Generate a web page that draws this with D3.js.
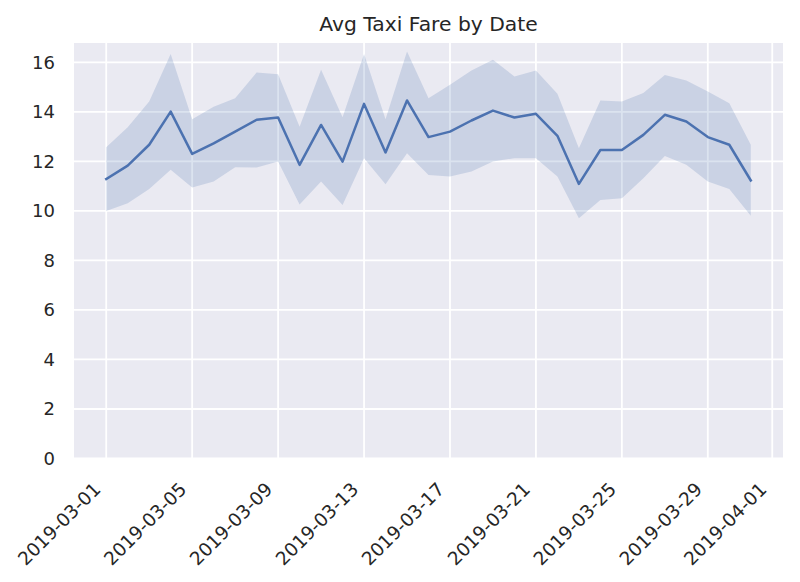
<!DOCTYPE html>
<html><head><meta charset="utf-8">
<script src="https://cdn.jsdelivr.net/npm/d3@7/dist/d3.min.js"></script>
<style>
html,body{margin:0;padding:0;background:#fff;}
text{font-family:"DejaVu Sans",sans-serif;fill:#262626;}
</style></head>
<body><svg id="c" width="800" height="582"></svg>
<script>
const dates = ["2019-03-01","2019-03-02","2019-03-03","2019-03-04","2019-03-05","2019-03-06","2019-03-07","2019-03-08","2019-03-09","2019-03-10","2019-03-11","2019-03-12","2019-03-13","2019-03-14","2019-03-15","2019-03-16","2019-03-17","2019-03-18","2019-03-19","2019-03-20","2019-03-21","2019-03-22","2019-03-23","2019-03-24","2019-03-25","2019-03-26","2019-03-27","2019-03-28","2019-03-29","2019-03-30","2019-03-31"];
const avgFare = [11.29,11.83,12.67,14.01,12.30,12.73,13.20,13.68,13.77,11.86,13.47,11.99,14.32,12.36,14.46,12.98,13.20,13.65,14.05,13.77,13.92,13.03,11.09,12.46,12.46,13.07,13.88,13.61,12.98,12.67,11.23];
const ciUpper = [12.57,13.38,14.42,16.34,13.70,14.21,14.55,15.59,15.52,13.40,15.70,13.78,16.34,13.70,16.44,14.55,15.09,15.67,16.10,15.43,15.67,14.73,12.53,14.46,14.42,14.76,15.49,15.27,14.82,14.35,12.67];
const ciLower = [10.00,10.31,10.88,11.66,10.94,11.19,11.76,11.75,11.99,10.26,11.19,10.24,12.13,11.08,12.33,11.45,11.39,11.59,11.99,12.13,12.13,11.39,9.70,10.44,10.51,11.32,12.22,11.86,11.19,10.88,9.80];
const xTickLabels = ["2019-03-01","2019-03-05","2019-03-09","2019-03-13","2019-03-17","2019-03-21","2019-03-25","2019-03-29","2019-04-01"];
const yTicks = [0,2,4,6,8,10,12,14,16];
const title = "Avg Taxi Fare by Date";

const parse = d3.utcParse("%Y-%m-%d");
const fmt = d3.utcFormat("%Y-%m-%d");
const data = dates.map((d,i)=>({date:parse(d), v:avgFare[i], lo:ciLower[i], hi:ciUpper[i]}));

const L=74, R=783, T=43, B=458.5;
const svg = d3.select("#c");
const x0 = data[0].date.getTime(), x1 = data[data.length-1].date.getTime();
const pad = (x1-x0)*0.05;
const x = d3.scaleUtc().domain([new Date(x0-pad), new Date(x1+pad)]).range([L,R]);
const y = d3.scaleLinear().domain([0,16.78]).range([B,T]);

svg.append("rect").attr("x",L).attr("y",T).attr("width",R-L).attr("height",B-T).attr("fill","#EAEAF2");

const xt = xTickLabels.map(parse);
svg.append("g").selectAll("line").data(yTicks).join("line")
  .attr("x1",L).attr("x2",R).attr("y1",d=>y(d)).attr("y2",d=>y(d))
  .attr("stroke","#fff").attr("stroke-width",1.8);
svg.append("g").selectAll("line").data(xt).join("line")
  .attr("y1",T).attr("y2",B).attr("x1",d=>x(d)).attr("x2",d=>x(d))
  .attr("stroke","#fff").attr("stroke-width",1.8);

svg.append("path").datum(data)
  .attr("d", d3.area().x(d=>x(d.date)).y0(d=>y(d.lo)).y1(d=>y(d.hi)))
  .attr("fill","#4C72B0").attr("fill-opacity",0.2).attr("stroke","none");
svg.append("path").datum(data)
  .attr("d", d3.line().x(d=>x(d.date)).y(d=>y(d.v)))
  .attr("fill","none").attr("stroke","#4C72B0").attr("stroke-width",2.5)
  .attr("stroke-linejoin","round").attr("stroke-linecap","square");

const yAxis = d3.axisLeft(y).tickValues(yTicks).tickSize(0).tickPadding(19);
const gy = svg.append("g").attr("transform",`translate(${L},0)`).call(yAxis);
gy.select(".domain").remove();
gy.selectAll("text").attr("font-size","18px").attr("fill","#262626").style("font-family","DejaVu Sans");

const xAxis = d3.axisBottom(x).tickValues(xt).tickFormat(fmt).tickSize(0).tickPadding(0);
const gx = svg.append("g").attr("transform",`translate(0,${B})`).call(xAxis);
gx.select(".domain").remove();
gx.selectAll("text")
  .attr("font-size","18.5px").attr("fill","#262626").style("font-family","DejaVu Sans")
  .attr("text-anchor","end").attr("dy",null).attr("y",null)
  .attr("transform","translate(-5,32) rotate(-45)");

svg.append("text").attr("x",(L+R)/2).attr("y",31).attr("text-anchor","middle")
  .attr("font-size","20.3px").text(title);
</script></body></html>
